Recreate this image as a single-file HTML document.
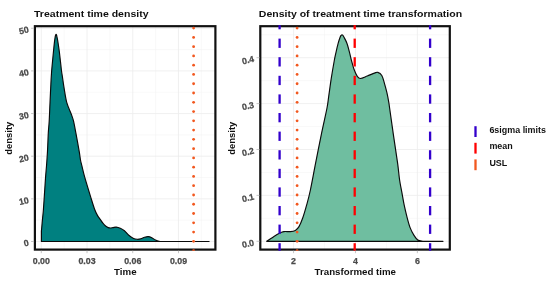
<!DOCTYPE html>
<html><head><meta charset="utf-8"><title>Density plots</title>
<style>html,body{margin:0;padding:0;background:#fff;}svg{display:block;filter:blur(0.35px);}</style></head>
<body>
<svg width="550" height="282" viewBox="0 0 550 282" font-family="'Liberation Sans', Arial, sans-serif">
<rect width="550" height="282" fill="#fff"/>
<defs><clipPath id="pc"><rect x="0" y="25.1" width="550" height="225.6"/></clipPath></defs>
<line x1="64.16" x2="64.16" y1="26.20" y2="249.60" stroke="#f3f3f3" stroke-width="0.5"/><line x1="109.89" x2="109.89" y1="26.20" y2="249.60" stroke="#f3f3f3" stroke-width="0.5"/><line x1="155.62" x2="155.62" y1="26.20" y2="249.60" stroke="#f3f3f3" stroke-width="0.5"/><line x1="201.35" x2="201.35" y1="26.20" y2="249.60" stroke="#f3f3f3" stroke-width="0.5"/><line x1="34.90" x2="215.40" y1="220.18" y2="220.18" stroke="#f3f3f3" stroke-width="0.5"/><line x1="34.90" x2="215.40" y1="177.53" y2="177.53" stroke="#f3f3f3" stroke-width="0.5"/><line x1="34.90" x2="215.40" y1="134.88" y2="134.88" stroke="#f3f3f3" stroke-width="0.5"/><line x1="34.90" x2="215.40" y1="92.22" y2="92.22" stroke="#f3f3f3" stroke-width="0.5"/><line x1="34.90" x2="215.40" y1="49.58" y2="49.58" stroke="#f3f3f3" stroke-width="0.5"/><line x1="41.30" x2="41.30" y1="26.20" y2="249.60" stroke="#ececec" stroke-width="0.8"/><line x1="87.03" x2="87.03" y1="26.20" y2="249.60" stroke="#ececec" stroke-width="0.8"/><line x1="132.76" x2="132.76" y1="26.20" y2="249.60" stroke="#ececec" stroke-width="0.8"/><line x1="178.49" x2="178.49" y1="26.20" y2="249.60" stroke="#ececec" stroke-width="0.8"/><line x1="34.90" x2="215.40" y1="241.50" y2="241.50" stroke="#ececec" stroke-width="0.8"/><line x1="34.90" x2="215.40" y1="198.85" y2="198.85" stroke="#ececec" stroke-width="0.8"/><line x1="34.90" x2="215.40" y1="156.20" y2="156.20" stroke="#ececec" stroke-width="0.8"/><line x1="34.90" x2="215.40" y1="113.55" y2="113.55" stroke="#ececec" stroke-width="0.8"/><line x1="34.90" x2="215.40" y1="70.90" y2="70.90" stroke="#ececec" stroke-width="0.8"/><line x1="34.90" x2="215.40" y1="28.25" y2="28.25" stroke="#ececec" stroke-width="0.8"/>
<rect x="34.90" y="26.20" width="180.50" height="223.40" fill="none" stroke="#111" stroke-width="2.2"/>
<path d="M41.4,241.5 L41.4,231  C41.43,230.67 41.40,231.17 41.60,229.00 C41.80,226.83 42.32,221.00 42.60,218.00 C42.88,215.00 43.03,214.33 43.30,211.00 C43.57,207.67 43.83,203.50 44.20,198.00 C44.57,192.50 45.12,183.33 45.50,178.00 C45.88,172.67 46.17,170.50 46.50,166.00 C46.83,161.50 47.20,156.50 47.50,151.00 C47.80,145.50 48.02,138.00 48.30,133.00 C48.58,128.00 48.92,126.00 49.20,121.00 C49.48,116.00 49.75,108.50 50.00,103.00 C50.25,97.50 50.45,93.00 50.70,88.00 C50.95,83.00 51.05,78.95 51.50,73.00 C51.95,67.05 52.90,57.53 53.40,52.30 C53.90,47.07 54.21,44.13 54.50,41.60 C54.79,39.07 54.97,38.17 55.15,37.10 C55.33,36.03 55.44,35.65 55.60,35.20 C55.76,34.75 55.93,34.40 56.10,34.40 C56.27,34.40 56.45,34.75 56.60,35.20 C56.75,35.65 56.79,36.03 57.00,37.10 C57.21,38.17 57.45,39.07 57.85,41.60 C58.25,44.13 58.81,47.57 59.40,52.30 C59.99,57.03 60.92,66.05 61.40,70.00 C61.88,73.95 61.85,72.97 62.30,76.00 C62.75,79.03 63.35,83.75 64.10,88.20 C64.85,92.65 65.62,98.40 66.80,102.70 C67.98,107.00 70.08,110.97 71.20,114.00 C72.32,117.03 72.72,117.70 73.50,120.90 C74.28,124.10 74.95,128.12 75.90,133.20 C76.85,138.28 78.43,146.93 79.20,151.40 C79.97,155.87 80.05,157.58 80.50,160.00 C80.95,162.42 81.15,162.87 81.90,165.90 C82.65,168.93 83.57,173.12 85.00,178.20 C86.43,183.28 88.88,191.18 90.50,196.40 C92.12,201.62 93.52,206.30 94.70,209.50 C95.88,212.70 96.68,213.97 97.60,215.60 C98.52,217.23 99.35,218.08 100.20,219.30 C101.05,220.52 101.85,221.82 102.70,222.90 C103.55,223.98 104.38,225.02 105.30,225.80 C106.22,226.58 107.35,227.23 108.20,227.60 C109.05,227.97 109.60,228.00 110.40,228.00 C111.20,228.00 112.03,227.75 113.00,227.60 C113.97,227.45 114.98,226.98 116.20,227.10 C117.42,227.22 118.93,227.68 120.30,228.30 C121.67,228.92 122.93,229.60 124.40,230.80 C125.87,232.00 127.57,234.22 129.10,235.50 C130.63,236.78 132.23,237.87 133.60,238.50 C134.97,239.13 136.08,239.25 137.30,239.30 C138.52,239.35 139.70,239.13 140.90,238.80 C142.10,238.47 143.28,237.67 144.50,237.30 C145.72,236.93 146.98,236.53 148.20,236.60 C149.42,236.67 150.58,237.13 151.80,237.70 C153.02,238.27 154.28,239.42 155.50,240.00 C156.72,240.58 157.90,240.95 159.10,241.20 C160.30,241.45 162.10,241.45 162.70,241.50 L209.1,241.5 Z" fill="#008080" stroke="#0a0a0a" stroke-width="1.15" stroke-linejoin="round"/>
<g clip-path="url(#pc)"><circle cx="193.60" cy="250.60" r="1.4" fill="#F2581F"/><circle cx="193.60" cy="241.33" r="1.4" fill="#F2581F"/><circle cx="193.60" cy="232.06" r="1.4" fill="#F2581F"/><circle cx="193.60" cy="222.79" r="1.4" fill="#F2581F"/><circle cx="193.60" cy="213.52" r="1.4" fill="#F2581F"/><circle cx="193.60" cy="204.25" r="1.4" fill="#F2581F"/><circle cx="193.60" cy="194.98" r="1.4" fill="#F2581F"/><circle cx="193.60" cy="185.71" r="1.4" fill="#F2581F"/><circle cx="193.60" cy="176.44" r="1.4" fill="#F2581F"/><circle cx="193.60" cy="167.17" r="1.4" fill="#F2581F"/><circle cx="193.60" cy="157.90" r="1.4" fill="#F2581F"/><circle cx="193.60" cy="148.63" r="1.4" fill="#F2581F"/><circle cx="193.60" cy="139.36" r="1.4" fill="#F2581F"/><circle cx="193.60" cy="130.09" r="1.4" fill="#F2581F"/><circle cx="193.60" cy="120.82" r="1.4" fill="#F2581F"/><circle cx="193.60" cy="111.55" r="1.4" fill="#F2581F"/><circle cx="193.60" cy="102.28" r="1.4" fill="#F2581F"/><circle cx="193.60" cy="93.01" r="1.4" fill="#F2581F"/><circle cx="193.60" cy="83.74" r="1.4" fill="#F2581F"/><circle cx="193.60" cy="74.47" r="1.4" fill="#F2581F"/><circle cx="193.60" cy="65.20" r="1.4" fill="#F2581F"/><circle cx="193.60" cy="55.93" r="1.4" fill="#F2581F"/><circle cx="193.60" cy="46.66" r="1.4" fill="#F2581F"/><circle cx="193.60" cy="37.39" r="1.4" fill="#F2581F"/><circle cx="193.60" cy="28.12" r="1.4" fill="#F2581F"/></g>
<line x1="324.50" x2="324.50" y1="26.20" y2="249.60" stroke="#f3f3f3" stroke-width="0.5"/><line x1="386.40" x2="386.40" y1="26.20" y2="249.60" stroke="#f3f3f3" stroke-width="0.5"/><line x1="260.30" x2="449.80" y1="218.35" y2="218.35" stroke="#f3f3f3" stroke-width="0.5"/><line x1="260.30" x2="449.80" y1="172.45" y2="172.45" stroke="#f3f3f3" stroke-width="0.5"/><line x1="260.30" x2="449.80" y1="126.55" y2="126.55" stroke="#f3f3f3" stroke-width="0.5"/><line x1="260.30" x2="449.80" y1="80.65" y2="80.65" stroke="#f3f3f3" stroke-width="0.5"/><line x1="260.30" x2="449.80" y1="34.75" y2="34.75" stroke="#f3f3f3" stroke-width="0.5"/><line x1="293.55" x2="293.55" y1="26.20" y2="249.60" stroke="#ececec" stroke-width="0.8"/><line x1="355.45" x2="355.45" y1="26.20" y2="249.60" stroke="#ececec" stroke-width="0.8"/><line x1="417.35" x2="417.35" y1="26.20" y2="249.60" stroke="#ececec" stroke-width="0.8"/><line x1="260.30" x2="449.80" y1="241.30" y2="241.30" stroke="#ececec" stroke-width="0.8"/><line x1="260.30" x2="449.80" y1="195.40" y2="195.40" stroke="#ececec" stroke-width="0.8"/><line x1="260.30" x2="449.80" y1="149.50" y2="149.50" stroke="#ececec" stroke-width="0.8"/><line x1="260.30" x2="449.80" y1="103.60" y2="103.60" stroke="#ececec" stroke-width="0.8"/><line x1="260.30" x2="449.80" y1="57.70" y2="57.70" stroke="#ececec" stroke-width="0.8"/>
<rect x="260.30" y="26.20" width="189.50" height="223.40" fill="none" stroke="#111" stroke-width="2.2"/>
<path d="M266.70,241.30 C267.68,240.65 270.57,238.72 272.60,237.40 C274.63,236.08 277.02,234.37 278.90,233.40 C280.78,232.43 282.02,231.90 283.90,231.60 C285.78,231.30 288.30,231.80 290.20,231.60 C292.10,231.40 293.83,231.23 295.30,230.40 C296.77,229.57 297.75,228.70 299.00,226.60 C300.25,224.50 301.53,221.37 302.80,217.80 C304.07,214.23 305.33,209.83 306.60,205.20 C307.87,200.57 308.90,197.00 310.40,190.00 C311.90,183.00 313.77,172.52 315.60,163.20 C317.43,153.88 319.50,143.30 321.40,134.10 C323.30,124.90 325.78,114.28 327.00,108.00 C328.22,101.72 327.98,101.37 328.70,96.40 C329.42,91.43 330.38,84.10 331.30,78.20 C332.22,72.30 333.42,65.32 334.20,61.00 C334.98,56.68 335.33,55.27 336.00,52.30 C336.67,49.33 337.50,45.75 338.20,43.20 C338.90,40.65 339.70,38.32 340.20,37.00 C340.70,35.68 340.90,35.68 341.20,35.30 C341.50,34.92 341.72,34.70 342.00,34.70 C342.28,34.70 342.58,34.92 342.90,35.30 C343.22,35.68 343.23,35.68 343.90,37.00 C344.57,38.32 345.97,40.65 346.90,43.20 C347.83,45.75 348.72,49.33 349.50,52.30 C350.28,55.27 350.82,58.08 351.60,61.00 C352.38,63.92 353.25,67.23 354.20,69.80 C355.15,72.37 356.27,74.95 357.30,76.40 C358.33,77.85 358.73,78.57 360.40,78.50 C362.07,78.43 364.95,76.90 367.30,76.00 C369.65,75.10 372.75,73.70 374.50,73.10 C376.25,72.50 376.58,72.00 377.80,72.40 C379.02,72.80 380.68,73.63 381.80,75.50 C382.92,77.37 383.65,80.73 384.50,83.60 C385.35,86.47 386.20,89.67 386.90,92.70 C387.60,95.73 388.25,99.25 388.70,101.80 C389.15,104.35 388.83,102.62 389.60,108.00 C390.37,113.38 391.97,124.90 393.30,134.10 C394.63,143.30 396.55,155.55 397.60,163.20 C398.65,170.85 398.88,175.10 399.60,180.00 C400.32,184.90 401.13,188.40 401.90,192.60 C402.67,196.80 403.32,201.00 404.20,205.20 C405.08,209.40 406.20,214.02 407.20,217.80 C408.20,221.58 409.07,224.97 410.20,227.90 C411.33,230.83 412.73,233.38 414.00,235.40 C415.27,237.42 416.33,239.03 417.80,240.00 C419.27,240.97 421.97,241.00 422.80,241.20 L443,241.3 Z" fill="#6FBEA0" stroke="#0a0a0a" stroke-width="1.15" stroke-linejoin="round"/>
<rect x="278.45" y="25.10" width="2.30" height="4.20" fill="#3300CC"/><rect x="278.45" y="38.60" width="2.30" height="9.30" fill="#3300CC"/><rect x="278.45" y="57.20" width="2.30" height="9.30" fill="#3300CC"/><rect x="278.45" y="75.80" width="2.30" height="9.30" fill="#3300CC"/><rect x="278.45" y="94.40" width="2.30" height="9.30" fill="#3300CC"/><rect x="278.45" y="113.00" width="2.30" height="9.30" fill="#3300CC"/><rect x="278.45" y="131.60" width="2.30" height="9.30" fill="#3300CC"/><rect x="278.45" y="150.20" width="2.30" height="9.30" fill="#3300CC"/><rect x="278.45" y="168.80" width="2.30" height="9.30" fill="#3300CC"/><rect x="278.45" y="187.40" width="2.30" height="9.30" fill="#3300CC"/><rect x="278.45" y="206.00" width="2.30" height="9.30" fill="#3300CC"/><rect x="278.45" y="224.60" width="2.30" height="9.30" fill="#3300CC"/><rect x="278.45" y="243.20" width="2.30" height="7.50" fill="#3300CC"/>
<rect x="428.95" y="25.10" width="2.30" height="4.20" fill="#3300CC"/><rect x="428.95" y="38.60" width="2.30" height="9.30" fill="#3300CC"/><rect x="428.95" y="57.20" width="2.30" height="9.30" fill="#3300CC"/><rect x="428.95" y="75.80" width="2.30" height="9.30" fill="#3300CC"/><rect x="428.95" y="94.40" width="2.30" height="9.30" fill="#3300CC"/><rect x="428.95" y="113.00" width="2.30" height="9.30" fill="#3300CC"/><rect x="428.95" y="131.60" width="2.30" height="9.30" fill="#3300CC"/><rect x="428.95" y="150.20" width="2.30" height="9.30" fill="#3300CC"/><rect x="428.95" y="168.80" width="2.30" height="9.30" fill="#3300CC"/><rect x="428.95" y="187.40" width="2.30" height="9.30" fill="#3300CC"/><rect x="428.95" y="206.00" width="2.30" height="9.30" fill="#3300CC"/><rect x="428.95" y="224.60" width="2.30" height="9.30" fill="#3300CC"/><rect x="428.95" y="243.20" width="2.30" height="7.50" fill="#3300CC"/>
<rect x="353.55" y="25.10" width="2.30" height="4.20" fill="#FF0000"/><rect x="353.55" y="38.60" width="2.30" height="9.30" fill="#FF0000"/><rect x="353.55" y="57.20" width="2.30" height="9.30" fill="#FF0000"/><rect x="353.55" y="75.80" width="2.30" height="9.30" fill="#FF0000"/><rect x="353.55" y="94.40" width="2.30" height="9.30" fill="#FF0000"/><rect x="353.55" y="113.00" width="2.30" height="9.30" fill="#FF0000"/><rect x="353.55" y="131.60" width="2.30" height="9.30" fill="#FF0000"/><rect x="353.55" y="150.20" width="2.30" height="9.30" fill="#FF0000"/><rect x="353.55" y="168.80" width="2.30" height="9.30" fill="#FF0000"/><rect x="353.55" y="187.40" width="2.30" height="9.30" fill="#FF0000"/><rect x="353.55" y="206.00" width="2.30" height="9.30" fill="#FF0000"/><rect x="353.55" y="224.60" width="2.30" height="9.30" fill="#FF0000"/><rect x="353.55" y="243.20" width="2.30" height="7.50" fill="#FF0000"/>
<g clip-path="url(#pc)"><circle cx="297.10" cy="250.60" r="1.4" fill="#F2581F"/><circle cx="297.10" cy="241.33" r="1.4" fill="#F2581F"/><circle cx="297.10" cy="232.06" r="1.4" fill="#F2581F"/><circle cx="297.10" cy="222.79" r="1.4" fill="#F2581F"/><circle cx="297.10" cy="213.52" r="1.4" fill="#F2581F"/><circle cx="297.10" cy="204.25" r="1.4" fill="#F2581F"/><circle cx="297.10" cy="194.98" r="1.4" fill="#F2581F"/><circle cx="297.10" cy="185.71" r="1.4" fill="#F2581F"/><circle cx="297.10" cy="176.44" r="1.4" fill="#F2581F"/><circle cx="297.10" cy="167.17" r="1.4" fill="#F2581F"/><circle cx="297.10" cy="157.90" r="1.4" fill="#F2581F"/><circle cx="297.10" cy="148.63" r="1.4" fill="#F2581F"/><circle cx="297.10" cy="139.36" r="1.4" fill="#F2581F"/><circle cx="297.10" cy="130.09" r="1.4" fill="#F2581F"/><circle cx="297.10" cy="120.82" r="1.4" fill="#F2581F"/><circle cx="297.10" cy="111.55" r="1.4" fill="#F2581F"/><circle cx="297.10" cy="102.28" r="1.4" fill="#F2581F"/><circle cx="297.10" cy="93.01" r="1.4" fill="#F2581F"/><circle cx="297.10" cy="83.74" r="1.4" fill="#F2581F"/><circle cx="297.10" cy="74.47" r="1.4" fill="#F2581F"/><circle cx="297.10" cy="65.20" r="1.4" fill="#F2581F"/><circle cx="297.10" cy="55.93" r="1.4" fill="#F2581F"/><circle cx="297.10" cy="46.66" r="1.4" fill="#F2581F"/><circle cx="297.10" cy="37.39" r="1.4" fill="#F2581F"/><circle cx="297.10" cy="28.12" r="1.4" fill="#F2581F"/></g>
<line x1="31.10" x2="34.10" y1="241.50" y2="241.50" stroke="#b8b8b8" stroke-width="0.8"/><text x="28.50" y="245.57" text-anchor="end" font-size="8.8" font-weight="bold" fill="#4a4a4a" stroke="#4a4a4a" stroke-width="0.25" transform="rotate(-13 28.50 242.40)">0</text>
<line x1="31.10" x2="34.10" y1="198.85" y2="198.85" stroke="#b8b8b8" stroke-width="0.8"/><text x="28.50" y="202.92" text-anchor="end" font-size="8.8" font-weight="bold" fill="#4a4a4a" stroke="#4a4a4a" stroke-width="0.25" transform="rotate(-13 28.50 199.75)">10</text>
<line x1="31.10" x2="34.10" y1="156.20" y2="156.20" stroke="#b8b8b8" stroke-width="0.8"/><text x="28.50" y="160.27" text-anchor="end" font-size="8.8" font-weight="bold" fill="#4a4a4a" stroke="#4a4a4a" stroke-width="0.25" transform="rotate(-13 28.50 157.10)">20</text>
<line x1="31.10" x2="34.10" y1="113.55" y2="113.55" stroke="#b8b8b8" stroke-width="0.8"/><text x="28.50" y="117.62" text-anchor="end" font-size="8.8" font-weight="bold" fill="#4a4a4a" stroke="#4a4a4a" stroke-width="0.25" transform="rotate(-13 28.50 114.45)">30</text>
<line x1="31.10" x2="34.10" y1="70.90" y2="70.90" stroke="#b8b8b8" stroke-width="0.8"/><text x="28.50" y="74.97" text-anchor="end" font-size="8.8" font-weight="bold" fill="#4a4a4a" stroke="#4a4a4a" stroke-width="0.25" transform="rotate(-13 28.50 71.80)">40</text>
<line x1="31.10" x2="34.10" y1="28.25" y2="28.25" stroke="#b8b8b8" stroke-width="0.8"/><text x="28.50" y="32.32" text-anchor="end" font-size="8.8" font-weight="bold" fill="#4a4a4a" stroke="#4a4a4a" stroke-width="0.25" transform="rotate(-13 28.50 29.15)">50</text>
<line x1="41.30" x2="41.30" y1="250.7" y2="253.2" stroke="#b8b8b8" stroke-width="0.8"/><text x="41.30" y="263.8" text-anchor="middle" font-size="8.8" font-weight="bold" fill="#4a4a4a" stroke="#4a4a4a" stroke-width="0.25">0.00</text>
<line x1="87.03" x2="87.03" y1="250.7" y2="253.2" stroke="#b8b8b8" stroke-width="0.8"/><text x="87.03" y="263.8" text-anchor="middle" font-size="8.8" font-weight="bold" fill="#4a4a4a" stroke="#4a4a4a" stroke-width="0.25">0.03</text>
<line x1="132.76" x2="132.76" y1="250.7" y2="253.2" stroke="#b8b8b8" stroke-width="0.8"/><text x="132.76" y="263.8" text-anchor="middle" font-size="8.8" font-weight="bold" fill="#4a4a4a" stroke="#4a4a4a" stroke-width="0.25">0.06</text>
<line x1="178.49" x2="178.49" y1="250.7" y2="253.2" stroke="#b8b8b8" stroke-width="0.8"/><text x="178.49" y="263.8" text-anchor="middle" font-size="8.8" font-weight="bold" fill="#4a4a4a" stroke="#4a4a4a" stroke-width="0.25">0.09</text>
<line x1="256.50" x2="259.50" y1="241.30" y2="241.30" stroke="#b8b8b8" stroke-width="0.8"/><text x="253.90" y="245.37" text-anchor="end" font-size="8.8" font-weight="bold" fill="#4a4a4a" stroke="#4a4a4a" stroke-width="0.25" transform="rotate(-13 253.90 242.20)">0.0</text>
<line x1="256.50" x2="259.50" y1="195.40" y2="195.40" stroke="#b8b8b8" stroke-width="0.8"/><text x="253.90" y="199.47" text-anchor="end" font-size="8.8" font-weight="bold" fill="#4a4a4a" stroke="#4a4a4a" stroke-width="0.25" transform="rotate(-13 253.90 196.30)">0.1</text>
<line x1="256.50" x2="259.50" y1="149.50" y2="149.50" stroke="#b8b8b8" stroke-width="0.8"/><text x="253.90" y="153.57" text-anchor="end" font-size="8.8" font-weight="bold" fill="#4a4a4a" stroke="#4a4a4a" stroke-width="0.25" transform="rotate(-13 253.90 150.40)">0.2</text>
<line x1="256.50" x2="259.50" y1="103.60" y2="103.60" stroke="#b8b8b8" stroke-width="0.8"/><text x="253.90" y="107.67" text-anchor="end" font-size="8.8" font-weight="bold" fill="#4a4a4a" stroke="#4a4a4a" stroke-width="0.25" transform="rotate(-13 253.90 104.50)">0.3</text>
<line x1="256.50" x2="259.50" y1="57.70" y2="57.70" stroke="#b8b8b8" stroke-width="0.8"/><text x="253.90" y="61.77" text-anchor="end" font-size="8.8" font-weight="bold" fill="#4a4a4a" stroke="#4a4a4a" stroke-width="0.25" transform="rotate(-13 253.90 58.60)">0.4</text>
<line x1="293.55" x2="293.55" y1="250.7" y2="253.2" stroke="#b8b8b8" stroke-width="0.8"/><text x="293.55" y="263.8" text-anchor="middle" font-size="8.8" font-weight="bold" fill="#4a4a4a" stroke="#4a4a4a" stroke-width="0.25">2</text>
<line x1="355.45" x2="355.45" y1="250.7" y2="253.2" stroke="#b8b8b8" stroke-width="0.8"/><text x="355.45" y="263.8" text-anchor="middle" font-size="8.8" font-weight="bold" fill="#4a4a4a" stroke="#4a4a4a" stroke-width="0.25">4</text>
<line x1="417.35" x2="417.35" y1="250.7" y2="253.2" stroke="#b8b8b8" stroke-width="0.8"/><text x="417.35" y="263.8" text-anchor="middle" font-size="8.8" font-weight="bold" fill="#4a4a4a" stroke="#4a4a4a" stroke-width="0.25">6</text>
<text transform="translate(34 17.2) scale(1.085 1)" font-size="9.7" font-weight="bold" fill="#111">Treatment time density</text>
<text transform="translate(258.8 17.2) scale(1.085 1)" font-size="9.7" font-weight="bold" fill="#111">Density of treatment time transformation</text>
<text transform="translate(125.3 275.3) scale(1.085 1)" text-anchor="middle" font-size="8.95" font-weight="bold" fill="#111">Time</text>
<text transform="translate(355.3 275.3) scale(1.085 1)" text-anchor="middle" font-size="8.95" font-weight="bold" fill="#111">Transformed time</text>
<text transform="translate(12.3 138.2) rotate(-90) scale(0.98 1)" text-anchor="middle" font-size="9.6" font-weight="bold" fill="#111">density</text>
<text transform="translate(235.0 138.2) rotate(-90) scale(0.98 1)" text-anchor="middle" font-size="9.6" font-weight="bold" fill="#111">density</text>
<rect x="474.35" y="126.20" width="2.3" height="10.8" fill="#3300CC"/>
<text transform="translate(489.4 132.50) scale(1.09 1)" font-size="8.2" font-weight="bold" fill="#111">6sigma limits</text>
<rect x="474.35" y="142.80" width="2.3" height="10.8" fill="#FF0000"/>
<text transform="translate(489.4 149.10) scale(1.09 1)" font-size="8.2" font-weight="bold" fill="#111">mean</text>
<rect x="474.35" y="159.40" width="2.3" height="10.8" fill="#F2581F"/>
<text transform="translate(489.4 165.70) scale(1.09 1)" font-size="8.2" font-weight="bold" fill="#111">USL</text>
</svg>
</body></html>
